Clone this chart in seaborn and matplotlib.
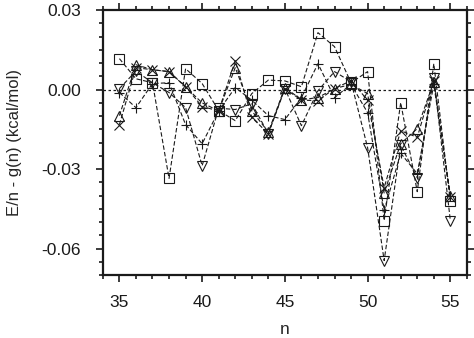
import numpy as np
import pandas as pd
import matplotlib
matplotlib.use("Agg")
import matplotlib.pyplot as plt
from matplotlib.ticker import MultipleLocator, FixedLocator, FixedFormatter
import seaborn as sns

sns.set_theme(style="ticks")
plt.rcParams['font.family'] = ['Liberation Sans', 'DejaVu Sans']

n = list(range(35, 56))

square = [0.0117, 0.0041, 0.0026, -0.0335, 0.0079, 0.0023, -0.0079, -0.0117, -0.0015, 0.0036,
          0.0033, 0.0011, 0.0215, 0.0162, 0.0026, 0.0068, -0.0494, -0.0049, -0.0385, 0.0098, -0.0422]
cross = [-0.0132, 0.0083, 0.0075, 0.0068, 0.0011, -0.0064, -0.0080, 0.0109, -0.0105, -0.0166,
         0.0004, -0.0040, -0.0041, 0.0004, 0.0034, -0.0040, -0.0370, -0.0155, -0.0180, 0.0034, -0.0407]
plus = [-0.0011, -0.0068, 0.0023, 0.0026, -0.0132, -0.0204, -0.0080, 0.0008, -0.0040, -0.0098,
        -0.0113, -0.0030, 0.0098, -0.0030, 0.0020, -0.0087, -0.0456, -0.0240, -0.0317, 0.0020, -0.0400]
tri_up = [-0.0098, 0.0094, 0.0075, 0.0068, 0.0010, -0.0050, -0.0080, 0.0083, -0.0080, -0.0160,
          0.0008, -0.0038, -0.0030, 0.0004, 0.0020, -0.0015, -0.0390, -0.0204, -0.0147, 0.0030, -0.0400]
tri_down = [0.0004, 0.0070, 0.0026, -0.0011, -0.0068, -0.0287, -0.0070, -0.0075, -0.0053, -0.0166,
            0.0004, -0.0136, -0.0004, 0.0068, 0.0030, -0.0219, -0.0645, -0.0210, -0.0332, 0.0045, -0.0494]

series = [(square, 's', 6.5), (cross, 'x', 6.5), (plus, '+', 7.5), (tri_up, '^', 6.5), (tri_down, 'v', 6.5)]

fig = plt.figure(figsize=(4.74, 3.38), dpi=100)
ax = fig.add_axes([0.217, 0.186, 0.768, 0.784])

ax.axhline(0, color='k', lw=0.9, ls=(0, (2, 2)), zorder=1)

for vals, mk, ms in series:
    df = pd.DataFrame({'n': n, 'v': vals})
    sns.lineplot(data=df, x='n', y='v', ax=ax, color='k', lw=0.8,
                 marker=mk, markersize=ms, markerfacecolor='none',
                 markeredgecolor='k', markeredgewidth=0.8)
for line in ax.get_lines()[1:]:
    line.set_dashes((4, 2))

ax.set_xlim(34, 56)
ax.set_ylim(-0.07, 0.03)
ax.xaxis.set_major_locator(FixedLocator([35, 40, 45, 50, 55]))
ax.xaxis.set_minor_locator(MultipleLocator(1))
yt = [0.03, 0.0, -0.03, -0.06]
ax.yaxis.set_major_locator(FixedLocator(yt))
ax.yaxis.set_major_formatter(FixedFormatter(['0.03', '0.00', '-0.03', '-0.06']))
ax.yaxis.set_minor_locator(MultipleLocator(0.005))

ax.tick_params(which='both', direction='out', top=True, right=True, colors='k',
               labelsize=12.5, width=1.2, labeltop=False, labelright=False)
ax.tick_params(which='major', length=5)
ax.tick_params(which='minor', length=3)
ax.tick_params(axis='y', which='major', pad=11)
ax.tick_params(axis='x', which='major', pad=9)
for s in ax.spines.values():
    s.set_linewidth(1.6)
    s.set_color('k')

ax.set_xlabel('n', fontsize=12.5, labelpad=9)
ax.set_ylabel('E/n - g(n) (kcal/mol)', fontsize=12, labelpad=14)

fig.savefig('out.png', dpi=100)
